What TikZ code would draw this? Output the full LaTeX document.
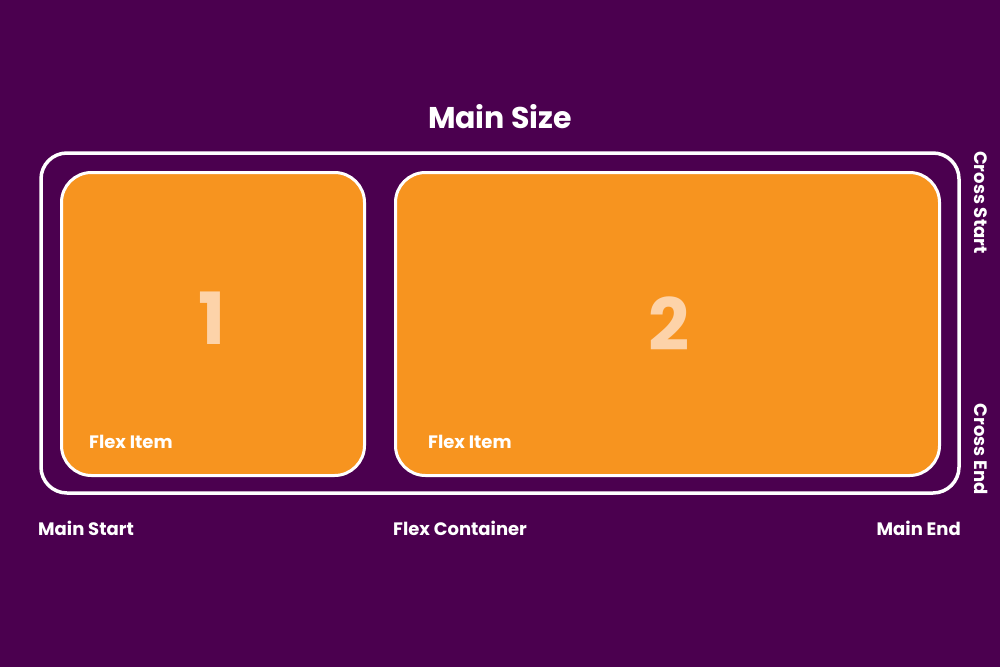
\documentclass[tikz,border=0pt]{standalone}
\usepackage{fontspec}
\setmainfont{Poppins}
\definecolor{bgpurple}{HTML}{4B004F}
\definecolor{itemorange}{HTML}{F7941F}
\definecolor{numpeach}{HTML}{FDD3A9}
\tikzset{
  container/.style={draw=white, line width=3.5pt, rounded corners=26pt},
  item/.style={draw=white, fill=itemorange, line width=3pt, rounded corners=30pt},
  lbl/.style={text=white, font=\bfseries\fontsize{18}{21}\selectfont, inner sep=0pt},
  numlbl/.style={text=numpeach, font=\bfseries\fontsize{72}{80}\selectfont, inner sep=0pt},
  title/.style={text=white, font=\bfseries\fontsize{30}{34}\selectfont, inner sep=0pt}
}
\begin{document}
\begin{tikzpicture}[x=1pt,y=-1pt]
\fill[bgpurple] (0,0) rectangle (1000,667);
\useasboundingbox (0,0) rectangle (1000,667);
\draw[container] (41,153) rectangle (959,493);
\draw[item] (61.5,172.5) rectangle (364.5,475.5);
\draw[item] (395.5,172.5) rectangle (939.5,475.5);
\node[title] (mainsize) at (500,117) {Main Size};
\node[numlbl] (one) at (212,318) {1};
\node[numlbl] (two) at (669,324) {2};
\node[lbl, anchor=west] (fi1) at (89,442) {Flex Item};
\node[lbl, anchor=west] (fi2) at (428,442) {Flex Item};
\node[lbl, anchor=west] (mstart) at (38,528) {Main Start};
\node[lbl, anchor=west] (fcont) at (393,528) {Flex Container};
\node[lbl, anchor=east] (mend) at (961,528) {Main End};
\node[lbl, rotate=-90, anchor=west] (cstart) at (981,151) {Cross Start};
\node[lbl, rotate=-90, anchor=east] (cend) at (981,495) {Cross End};
\end{tikzpicture}
\end{document}
